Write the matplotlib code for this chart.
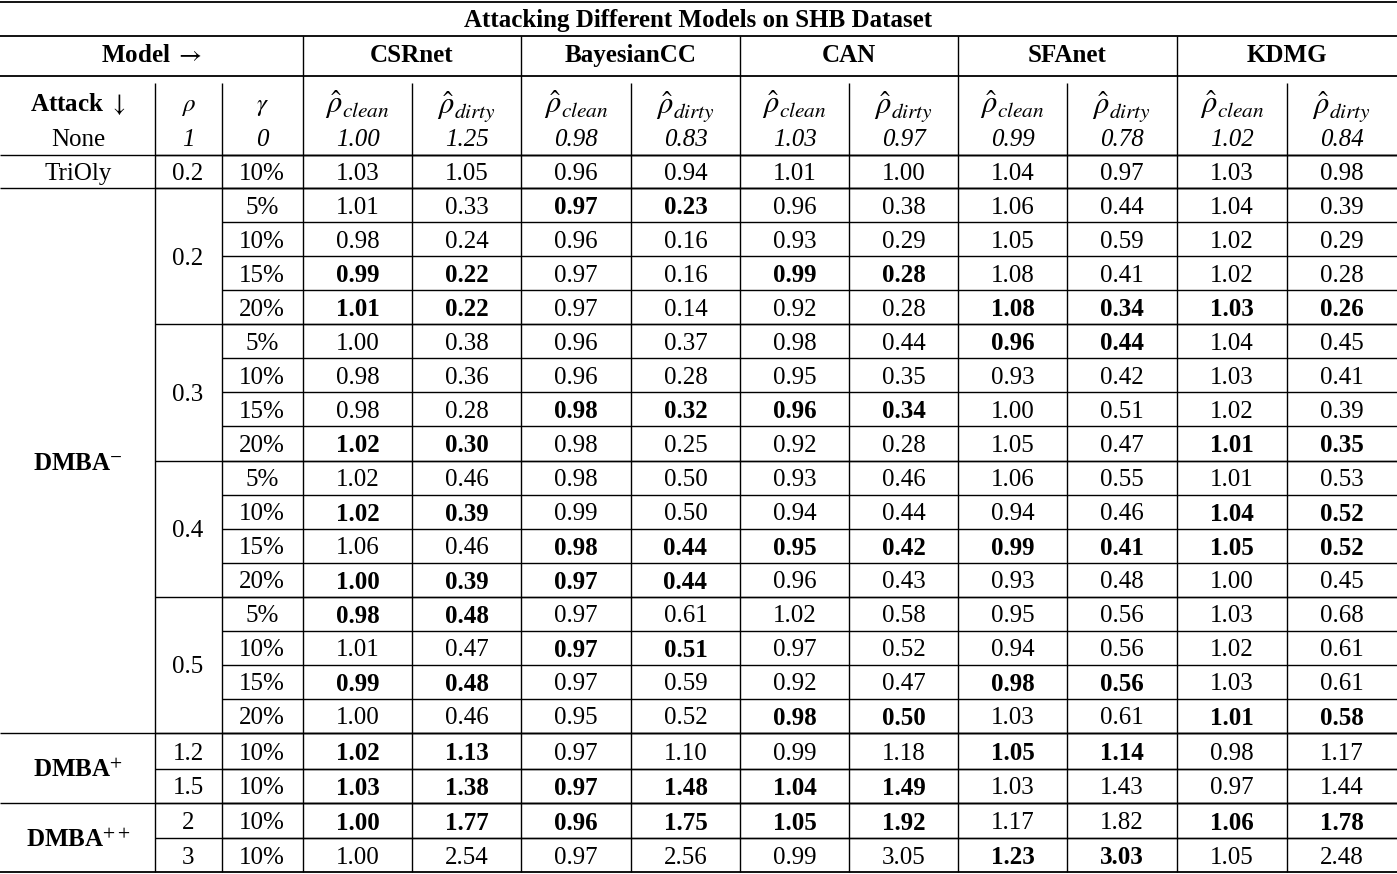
import numpy as np
import matplotlib
matplotlib.use("Agg")
import matplotlib.pyplot as plt

plt.rcParams['font.family'] = ['Liberation Serif', 'DejaVu Serif']
plt.rcParams['mathtext.fontset'] = 'stix'

title = "Attacking Different Models on SHB Dataset"
models = ["CSRnet", "BayesianCC", "CAN", "SFAnet", "KDMG"]

attack_groups = [("None", 0, 1), ("TriOly", 1, 2), ("DMBA$^{-}$", 2, 18),
                 ("DMBA$^{+}$", 18, 20), ("DMBA$^{++}$", 20, 22)]
rho_groups = [("1", 0, 1), ("0.2", 1, 2), ("0.2", 2, 6), ("0.3", 6, 10), ("0.4", 10, 14),
              ("0.5", 14, 18), ("1.2", 18, 19), ("1.5", 19, 20), ("2", 20, 21), ("3", 21, 22)]
gammas = ["0", "10%"] + ["5%", "10%", "15%", "20%"] * 4 + ["10%"] * 4

values = [
    [1.00, 1.25, 0.98, 0.83, 1.03, 0.97, 0.99, 0.78, 1.02, 0.84],
    [1.03, 1.05, 0.96, 0.94, 1.01, 1.00, 1.04, 0.97, 1.03, 0.98],
    [1.01, 0.33, 0.97, 0.23, 0.96, 0.38, 1.06, 0.44, 1.04, 0.39],
    [0.98, 0.24, 0.96, 0.16, 0.93, 0.29, 1.05, 0.59, 1.02, 0.29],
    [0.99, 0.22, 0.97, 0.16, 0.99, 0.28, 1.08, 0.41, 1.02, 0.28],
    [1.01, 0.22, 0.97, 0.14, 0.92, 0.28, 1.08, 0.34, 1.03, 0.26],
    [1.00, 0.38, 0.96, 0.37, 0.98, 0.44, 0.96, 0.44, 1.04, 0.45],
    [0.98, 0.36, 0.96, 0.28, 0.95, 0.35, 0.93, 0.42, 1.03, 0.41],
    [0.98, 0.28, 0.98, 0.32, 0.96, 0.34, 1.00, 0.51, 1.02, 0.39],
    [1.02, 0.30, 0.98, 0.25, 0.92, 0.28, 1.05, 0.47, 1.01, 0.35],
    [1.02, 0.46, 0.98, 0.50, 0.93, 0.46, 1.06, 0.55, 1.01, 0.53],
    [1.02, 0.39, 0.99, 0.50, 0.94, 0.44, 0.94, 0.46, 1.04, 0.52],
    [1.06, 0.46, 0.98, 0.44, 0.95, 0.42, 0.99, 0.41, 1.05, 0.52],
    [1.00, 0.39, 0.97, 0.44, 0.96, 0.43, 0.93, 0.48, 1.00, 0.45],
    [0.98, 0.48, 0.97, 0.61, 1.02, 0.58, 0.95, 0.56, 1.03, 0.68],
    [1.01, 0.47, 0.97, 0.51, 0.97, 0.52, 0.94, 0.56, 1.02, 0.61],
    [0.99, 0.48, 0.97, 0.59, 0.92, 0.47, 0.98, 0.56, 1.03, 0.61],
    [1.00, 0.46, 0.95, 0.52, 0.98, 0.50, 1.03, 0.61, 1.01, 0.58],
    [1.02, 1.13, 0.97, 1.10, 0.99, 1.18, 1.05, 1.14, 0.98, 1.17],
    [1.03, 1.38, 0.97, 1.48, 1.04, 1.49, 1.03, 1.43, 0.97, 1.44],
    [1.00, 1.77, 0.96, 1.75, 1.05, 1.92, 1.17, 1.82, 1.06, 1.78],
    [1.00, 2.54, 0.97, 2.56, 0.99, 3.05, 1.23, 3.03, 1.05, 2.48],
]
# bold flag per model (pair clean/dirty)
bold = [
    [0, 0, 0, 0, 0], [0, 0, 0, 0, 0],
    [0, 1, 0, 0, 0], [0, 0, 0, 0, 0], [1, 0, 1, 0, 0], [1, 0, 0, 1, 1],
    [0, 0, 0, 1, 0], [0, 0, 0, 0, 0], [0, 1, 1, 0, 0], [1, 0, 0, 0, 1],
    [0, 0, 0, 0, 0], [1, 0, 0, 0, 1], [0, 1, 1, 1, 1], [1, 1, 0, 0, 0],
    [1, 0, 0, 0, 0], [0, 1, 0, 0, 0], [1, 0, 0, 1, 0], [0, 0, 1, 0, 1],
    [1, 0, 0, 1, 0], [1, 1, 1, 0, 0], [1, 1, 1, 0, 1], [0, 0, 0, 1, 0],
]

W, H = 1397, 874
fig = plt.figure(figsize=(W / 100, H / 100), dpi=100)
ax = fig.add_axes([0, 0, 1, 1])
ax.set_xlim(0, W)
ax.set_ylim(H, 0)
ax.axis('off')

# layout
col_x = [0, 155, 222, 303, 412, 521, 631, 740, 849, 958, 1067, 1177, 1287, 1397]
row_y = [120, 155, 188] + list(np.linspace(188, 733, 17)[1:]) + [769, 803, 838, 872]
fs = 18
lw = 1.0

def txt(x, y, s, size=fs, **kw):
    ax.text(x, y, s, ha='center', va='center_baseline', fontsize=size, **kw)

def hline(y, x0=0, x1=W, w=lw):
    ax.plot([x0, x1], [y, y], color='black', lw=w, solid_capstyle='butt')

def vline(x, y0, y1):
    ax.plot([x, x], [y0, y1], color='black', lw=lw, solid_capstyle='butt')

# header
txt(W / 2, 18, title, fontweight='bold')
txt((col_x[0] + col_x[3]) / 2, 53, r"Model $\rightarrow$", fontweight='bold')
for i, m in enumerate(models):
    txt((col_x[3 + 2 * i] + col_x[5 + 2 * i]) / 2, 53, m, fontweight='bold')
txt(78, 101, r"Attack $\downarrow$", fontweight='bold')
txt(188, 103, r"$\rho$")
txt(262, 103, r"$\gamma$")
for i in range(5):
    txt((col_x[3 + 2 * i] + col_x[4 + 2 * i]) / 2, 101, r"$\hat{\rho}_{clean}$", size=22)
    txt((col_x[4 + 2 * i] + col_x[5 + 2 * i]) / 2, 101, r"$\hat{\rho}_{dirty}$", size=22)

hline(2, w=1.3)
hline(36, w=1.3)
hline(76, w=1.3)
hline(row_y[-1], w=1.3)

for name, a, b in attack_groups:
    txt(78, (row_y[a] + row_y[b]) / 2, name, fontweight='normal' if a < 2 else 'bold')
    if a > 0:
        hline(row_y[a])
for name, a, b in rho_groups:
    txt(188, (row_y[a] + row_y[b]) / 2, name, style='italic' if a == 0 else 'normal')
    if a > 0:
        hline(row_y[a], x0=155)
for r in range(len(values)):
    if r > 0:
        hline(row_y[r], x0=222)
    txt(262, (row_y[r] + row_y[r + 1]) / 2, gammas[r], style='italic' if r == 0 else 'normal')
    for c, v in enumerate(values[r]):
        txt((col_x[3 + c] + col_x[4 + c]) / 2, (row_y[r] + row_y[r + 1]) / 2, f"{v:.2f}",
            fontweight='bold' if bold[r][c // 2] else 'normal',
            style='italic' if r == 0 else 'normal')

# vertical lines
for x in [155, 222]:
    vline(x, 83, row_y[-1])
for i, x in enumerate(col_x[3:-1]):
    if i % 2 == 0:
        vline(x, 36, row_y[-1])
    else:
        vline(x, 83, row_y[-1])

fig.savefig("out.png", dpi=100)
